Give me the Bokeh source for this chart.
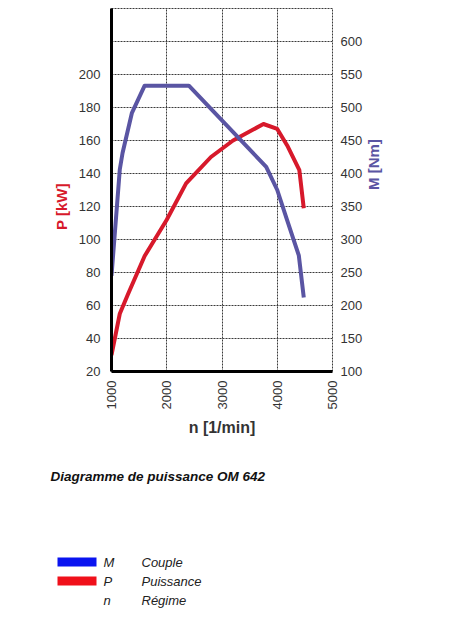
from math import pi
from bokeh.plotting import figure
from bokeh.models import Range1d, LinearAxis, FixedTicker
from bokeh.embed import file_html
from bokeh.resources import INLINE
from bokeh.core.properties import value

# ---- data ----
speed_power = [1000, 1150, 1300, 1600, 2000, 2350, 2800, 3200, 3750, 4000, 4180, 4400, 4480]
power_kw = [30, 55, 67, 90, 112, 134, 150, 160, 170, 167, 157, 142, 119]

speed_torque = [1000, 1150, 1200, 1370, 1600, 2400, 3800, 4000, 4180, 4390, 4480]
torque_nm = [245, 406, 431, 492, 533, 533, 410, 375, 329, 276, 212]

x_ticks = [1000, 2000, 3000, 4000, 5000]
p_ticks = [20, 40, 60, 80, 100, 120, 140, 160, 180, 200]
p_grid = [20, 40, 60, 80, 100, 120, 140, 160, 180, 200, 220, 240]
m_ticks = [100, 150, 200, 250, 300, 350, 400, 450, 500, 550, 600]

caption = "Diagramme de puissance OM 642"
legend_symbols = ["M", "P", "n"]
legend_names = ["Couple", "Puissance", "Régime"]
legend_colors = ["#0a14f0", "#f0101a", None]

RED = "#d7192b"
PURPLE = "#5a55a3"
FONT = "Liberation Sans"
TICK_COLOR = "#333333"

# ---- layout geometry (page pixels) ----
W = 440
H1 = 445
H2 = 170
FL, FR, FT, FB = 111, 332, 8, 371   # frame edges on the page

p = figure(width=W, height=H1, output_backend="svg", toolbar_location=None,
           x_range=Range1d(1000, 5000), y_range=Range1d(20, 240),
           min_border_left=FL, min_border_right=W - FR,
           min_border_top=FT, min_border_bottom=H1 - FB)
p.extra_y_ranges = {"torque": Range1d(100, 650)}
p.outline_line_color = "#3a3a3a"
p.outline_line_dash = "2 1"
p.outline_line_width = 1

# grids
p.xgrid.ticker = FixedTicker(ticks=x_ticks)
p.ygrid.ticker = FixedTicker(ticks=p_grid)
for g in (p.xgrid, p.ygrid):
    g.grid_line_color = "#3a3a3a"
    g.grid_line_dash = "2 1"
    g.grid_line_width = 1

# axes
xa = p.xaxis[0]
xa.ticker = FixedTicker(ticks=x_ticks)
xa.major_label_orientation = pi / 2
ya = p.yaxis[0]
ya.ticker = FixedTicker(ticks=p_ticks)
ra = LinearAxis(y_range_name="torque", ticker=FixedTicker(ticks=m_ticks))
p.add_layout(ra, "right")

for ax in (xa, ya, ra):
    ax.major_tick_line_color = None
    ax.minor_tick_line_color = None
    ax.major_tick_in = 0
    ax.major_tick_out = 0
    ax.minor_tick_in = 0
    ax.minor_tick_out = 0
    ax.major_label_text_font = FONT
    ax.major_label_text_font_size = "13px"
    ax.major_label_text_color = TICK_COLOR
    ax.axis_label_text_font = FONT
    ax.axis_label_text_font_style = "bold"
xa.axis_line_color = "black"
xa.axis_line_width = 3
ya.axis_line_color = "black"
ya.axis_line_width = 3
ra.axis_line_color = None
xa.major_label_standoff = 9
ya.major_label_standoff = 11
ra.major_label_standoff = 8

xa.axis_label = "n [1/min]"
xa.axis_label_text_font_size = "16px"
xa.axis_label_text_color = "#333333"
xa.axis_label_standoff = 7
# trailing no-break spaces push the title a little below the frame centre
ya.axis_label = "P [kW]" + "\u00a0" * 8
ya.axis_label_text_font_size = "15px"
ya.axis_label_text_color = RED
ya.axis_label_standoff = 6
ra.axis_label = "M [Nm]"
ra.axis_label_text_font_size = "15px"
ra.axis_label_text_color = PURPLE
ra.axis_label_standoff = 8
ra.bounds = (52, 600)   # invisible rule; moves the label anchor lower
if "axis_label_orientation" in ra.properties():
    ra.axis_label_orientation = pi / 2

# curves
p.line(speed_power, power_kw, line_color=RED, line_width=4, line_join="round")
p.line(speed_torque, torque_nm, line_color=PURPLE, line_width=4, line_join="round",
       y_range_name="torque")

# ---- caption & legend panel ----
q = figure(width=W, height=H2, output_backend="svg", toolbar_location=None,
           x_range=Range1d(0, W), y_range=Range1d(H2, 0),
           min_border=0, min_border_left=0, min_border_right=0,
           min_border_top=0, min_border_bottom=0)
q.axis.visible = False
q.grid.visible = False
q.outline_line_color = None

q.text(x=[50], y=[31], text=[caption], text_font=value(FONT),
       text_font_style="bold italic", text_font_size="13.5px",
       text_color="#111111", text_baseline="middle", text_align="left")

row_y = [116.5, 135.5, 154.5]
for sym, name, col, yy in zip(legend_symbols, legend_names, legend_colors, row_y):
    if col is not None:
        q.quad(left=[57], right=[96], top=[yy - 4.5], bottom=[yy + 4.5],
               fill_color=col, line_color=None)
    q.text(x=[103], y=[yy], text=[sym], text_font=value(FONT),
           text_font_style="italic", text_font_size="13px",
           text_color="#222222", text_baseline="middle", text_align="left")
    q.text(x=[141], y=[yy], text=[name], text_font=value(FONT),
           text_font_style="italic", text_font_size="13px",
           text_color="#222222", text_baseline="middle", text_align="left")

open("out.html", "w").write(file_html([p, q], INLINE))
